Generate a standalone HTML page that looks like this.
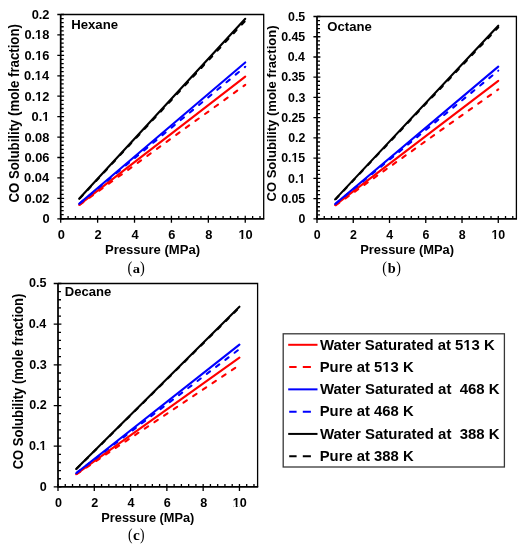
<!DOCTYPE html>
<html><head><meta charset="utf-8"><style>
html,body{margin:0;padding:0;background:#fff;}
svg{display:block;}
text{font-family:"Liberation Sans", Arial, Helvetica, sans-serif;font-weight:bold;fill:#000;}
text.cap{font-family:"Liberation Serif", "Times New Roman", serif;font-weight:normal;}
text.capb{font-family:"Liberation Serif", "Times New Roman", serif;font-weight:bold;}
</style></head><body>
<svg width="531" height="550" viewBox="0 0 531 550">
<rect width="531" height="550" fill="#fff"/>
<line x1="79.15" y1="204.93" x2="245.25" y2="76.65" stroke="#f00" stroke-width="2.1" stroke-linecap="round"/>
<line x1="79.15" y1="205.23" x2="245.25" y2="84.81" stroke="#f00" stroke-width="2.1" stroke-dasharray="4.2 7.68" stroke-dashoffset="-1.0" stroke-linecap="round"/>
<line x1="79.15" y1="203.70" x2="245.25" y2="62.47" stroke="#00f" stroke-width="2.1" stroke-linecap="round"/>
<line x1="79.15" y1="203.91" x2="245.25" y2="66.75" stroke="#00f" stroke-width="2.1" stroke-dasharray="4.2 7.68" stroke-dashoffset="-1.0" stroke-linecap="round"/>
<line x1="79.15" y1="198.80" x2="245.25" y2="18.79" stroke="#000" stroke-width="2.1" stroke-linecap="round"/>
<line x1="79.15" y1="199.11" x2="245.25" y2="20.73" stroke="#000" stroke-width="2.1" stroke-dasharray="4.2 7.68" stroke-dashoffset="-1.0" stroke-linecap="round"/>
<path d="M60.70 14.50H263.70V218.80" fill="none" stroke="#000" stroke-width="1.3"/>
<path d="M60.70 13.90V218.80H264.30" fill="none" stroke="#000" stroke-width="1.75"/>
<path d="M57.30 218.80H64.10M60.70 214.71H63.70M60.70 210.63H63.70M60.70 206.54H63.70M60.70 202.46H63.70M57.30 198.37H64.10M60.70 194.28H63.70M60.70 190.20H63.70M60.70 186.11H63.70M60.70 182.03H63.70M57.30 177.94H64.10M60.70 173.85H63.70M60.70 169.77H63.70M60.70 165.68H63.70M60.70 161.60H63.70M57.30 157.51H64.10M60.70 153.42H63.70M60.70 149.34H63.70M60.70 145.25H63.70M60.70 141.17H63.70M57.30 137.08H64.10M60.70 132.99H63.70M60.70 128.91H63.70M60.70 124.82H63.70M60.70 120.74H63.70M57.30 116.65H64.10M60.70 112.56H63.70M60.70 108.48H63.70M60.70 104.39H63.70M60.70 100.31H63.70M57.30 96.22H64.10M60.70 92.13H63.70M60.70 88.05H63.70M60.70 83.96H63.70M60.70 79.88H63.70M57.30 75.79H64.10M60.70 71.70H63.70M60.70 67.62H63.70M60.70 63.53H63.70M60.70 59.45H63.70M57.30 55.36H64.10M60.70 51.27H63.70M60.70 47.19H63.70M60.70 43.10H63.70M60.70 39.02H63.70M57.30 34.93H64.10M60.70 30.84H63.70M60.70 26.76H63.70M60.70 22.67H63.70M60.70 18.59H63.70M57.30 14.50H64.10M60.70 215.80V222.80M97.61 215.80V222.80M134.52 215.80V222.80M171.43 215.80V222.80M208.34 215.80V222.80M245.25 215.80V222.80M68.08 218.80V215.90M75.46 218.80V215.90M82.85 218.80V215.90M90.23 218.80V215.90M104.99 218.80V215.90M112.37 218.80V215.90M119.75 218.80V215.90M127.14 218.80V215.90M141.90 218.80V215.90M149.28 218.80V215.90M156.66 218.80V215.90M164.05 218.80V215.90M178.81 218.80V215.90M186.19 218.80V215.90M193.57 218.80V215.90M200.95 218.80V215.90M215.72 218.80V215.90M223.10 218.80V215.90M230.48 218.80V215.90M237.86 218.80V215.90M252.63 218.80V215.90M260.01 218.80V215.90" stroke="#000" stroke-width="1.3" fill="none"/>
<text transform="translate(42.38 223.35) scale(1.0370 1)" font-size="12.40">0</text>
<text transform="translate(24.49 202.92) scale(1.0370 1)" font-size="12.40">0.02</text>
<text transform="translate(24.04 182.49) scale(1.0370 1)" font-size="12.40">0.04</text>
<text transform="translate(24.44 162.06) scale(1.0370 1)" font-size="12.40">0.06</text>
<text transform="translate(24.38 141.63) scale(1.0370 1)" font-size="12.40">0.08</text>
<g transform="translate(31.49 121.20) scale(1.0370 1)"><text font-size="12.40">0.1</text><g fill="#fff"><rect x="10.95" y="-1.90" width="2.25" height="2.9"/><rect x="14.97" y="-1.90" width="2.03" height="2.9"/></g></g>
<g transform="translate(24.49 100.77) scale(1.0370 1)"><text font-size="12.40">0.12</text><g fill="#fff"><rect x="10.95" y="-1.90" width="2.25" height="2.9"/><rect x="14.97" y="-1.90" width="2.03" height="2.9"/></g></g>
<g transform="translate(24.04 80.34) scale(1.0370 1)"><text font-size="12.40">0.14</text><g fill="#fff"><rect x="10.95" y="-1.90" width="2.25" height="2.9"/><rect x="14.97" y="-1.90" width="2.03" height="2.9"/></g></g>
<g transform="translate(24.44 59.91) scale(1.0370 1)"><text font-size="12.40">0.16</text><g fill="#fff"><rect x="10.95" y="-1.90" width="2.25" height="2.9"/><rect x="14.97" y="-1.90" width="2.03" height="2.9"/></g></g>
<g transform="translate(24.38 39.48) scale(1.0370 1)"><text font-size="12.40">0.18</text><g fill="#fff"><rect x="10.95" y="-1.90" width="2.25" height="2.9"/><rect x="14.97" y="-1.90" width="2.03" height="2.9"/></g></g>
<text transform="translate(31.64 19.05) scale(1.0370 1)" font-size="12.40">0.2</text>
<text transform="translate(57.63 239.20) scale(1.0370 1)" font-size="12.40">0</text>
<text transform="translate(94.57 239.20) scale(1.0370 1)" font-size="12.40">2</text>
<text transform="translate(131.38 239.20) scale(1.0370 1)" font-size="12.40">4</text>
<text transform="translate(168.35 239.20) scale(1.0370 1)" font-size="12.40">6</text>
<text transform="translate(205.26 239.20) scale(1.0370 1)" font-size="12.40">8</text>
<g transform="translate(238.45 239.20) scale(1.0370 1)"><text font-size="12.40">10</text><g fill="#fff"><rect x="0.61" y="-1.90" width="2.25" height="2.9"/><rect x="4.63" y="-1.90" width="2.03" height="2.9"/></g></g>
<text transform="translate(71.17 28.80) scale(1.0297 1)" font-size="12.80">Hexane</text>
<text transform="translate(104.92 254.20) scale(0.9898 1)" font-size="13.20">Pressure (MPa)</text>
<text transform="translate(127.57 272.50) scale(0.8832 1)" font-size="16.30" class="cap">(</text>
<text transform="translate(132.73 272.50) scale(1.1038 1)" font-size="13.20" class="capb">a</text>
<text transform="translate(139.94 272.50) scale(0.8832 1)" font-size="16.30" class="cap">)</text>
<text transform="translate(18.80 202.54) rotate(-90) scale(0.9246 1)" font-size="14.30">CO Solubility (mole fraction)</text>
<line x1="335.13" y1="205.19" x2="498.27" y2="80.86" stroke="#f00" stroke-width="2.1" stroke-linecap="round"/>
<line x1="335.13" y1="205.72" x2="498.27" y2="89.37" stroke="#f00" stroke-width="2.1" stroke-dasharray="4.1 7.55" stroke-dashoffset="-1.0" stroke-linecap="round"/>
<line x1="335.13" y1="204.02" x2="498.27" y2="66.67" stroke="#00f" stroke-width="2.1" stroke-linecap="round"/>
<line x1="335.13" y1="204.10" x2="498.27" y2="70.72" stroke="#00f" stroke-width="2.1" stroke-dasharray="4.1 7.55" stroke-dashoffset="-1.0" stroke-linecap="round"/>
<line x1="335.13" y1="199.40" x2="498.27" y2="25.72" stroke="#000" stroke-width="2.1" stroke-linecap="round"/>
<line x1="335.13" y1="199.64" x2="498.27" y2="27.35" stroke="#000" stroke-width="2.1" stroke-dasharray="4.1 7.55" stroke-dashoffset="-1.0" stroke-linecap="round"/>
<path d="M317.00 16.50H516.40V218.90" fill="none" stroke="#000" stroke-width="1.3"/>
<path d="M317.00 15.90V218.90H517.00" fill="none" stroke="#000" stroke-width="1.75"/>
<path d="M313.40 218.90H320.40M317.00 214.85H320.00M317.00 210.80H320.00M317.00 206.76H320.00M317.00 202.71H320.00M313.40 198.66H320.40M317.00 194.61H320.00M317.00 190.56H320.00M317.00 186.52H320.00M317.00 182.47H320.00M313.40 178.42H320.40M317.00 174.37H320.00M317.00 170.32H320.00M317.00 166.28H320.00M317.00 162.23H320.00M313.40 158.18H320.40M317.00 154.13H320.00M317.00 150.08H320.00M317.00 146.04H320.00M317.00 141.99H320.00M313.40 137.94H320.40M317.00 133.89H320.00M317.00 129.84H320.00M317.00 125.80H320.00M317.00 121.75H320.00M313.40 117.70H320.40M317.00 113.65H320.00M317.00 109.60H320.00M317.00 105.56H320.00M317.00 101.51H320.00M313.40 97.46H320.40M317.00 93.41H320.00M317.00 89.36H320.00M317.00 85.32H320.00M317.00 81.27H320.00M313.40 77.22H320.40M317.00 73.17H320.00M317.00 69.12H320.00M317.00 65.08H320.00M317.00 61.03H320.00M313.40 56.98H320.40M317.00 52.93H320.00M317.00 48.88H320.00M317.00 44.84H320.00M317.00 40.79H320.00M313.40 36.74H320.40M317.00 32.69H320.00M317.00 28.64H320.00M317.00 24.60H320.00M317.00 20.55H320.00M313.40 16.50H320.40M317.00 215.90V222.90M353.25 215.90V222.90M389.51 215.90V222.90M425.76 215.90V222.90M462.02 215.90V222.90M498.27 215.90V222.90M324.25 218.90V216.00M331.50 218.90V216.00M338.75 218.90V216.00M346.00 218.90V216.00M360.51 218.90V216.00M367.76 218.90V216.00M375.01 218.90V216.00M382.26 218.90V216.00M396.76 218.90V216.00M404.01 218.90V216.00M411.26 218.90V216.00M418.51 218.90V216.00M433.01 218.90V216.00M440.27 218.90V216.00M447.52 218.90V216.00M454.77 218.90V216.00M469.27 218.90V216.00M476.52 218.90V216.00M483.77 218.90V216.00M491.02 218.90V216.00M505.52 218.90V216.00M512.77 218.90V216.00" stroke="#000" stroke-width="1.3" fill="none"/>
<text transform="translate(298.52 223.00) scale(1.0160 1)" font-size="12.20">0</text>
<text transform="translate(281.13 202.76) scale(1.0160 1)" font-size="12.20">0.05</text>
<g transform="translate(288.02 182.52) scale(1.0160 1)"><text font-size="12.20">0.1</text><g fill="#fff"><rect x="10.77" y="-1.90" width="2.22" height="2.9"/><rect x="14.73" y="-1.90" width="2.00" height="2.9"/></g></g>
<g transform="translate(281.13 162.28) scale(1.0160 1)"><text font-size="12.20">0.15</text><g fill="#fff"><rect x="10.77" y="-1.90" width="2.22" height="2.9"/><rect x="14.73" y="-1.90" width="2.00" height="2.9"/></g></g>
<text transform="translate(288.17 142.04) scale(1.0160 1)" font-size="12.20">0.2</text>
<text transform="translate(281.13 121.80) scale(1.0160 1)" font-size="12.20">0.25</text>
<text transform="translate(288.12 101.56) scale(1.0160 1)" font-size="12.20">0.3</text>
<text transform="translate(281.13 81.32) scale(1.0160 1)" font-size="12.20">0.35</text>
<text transform="translate(287.73 61.08) scale(1.0160 1)" font-size="12.20">0.4</text>
<text transform="translate(281.13 40.84) scale(1.0160 1)" font-size="12.20">0.45</text>
<text transform="translate(288.02 20.60) scale(1.0160 1)" font-size="12.20">0.5</text>
<text transform="translate(313.76 238.90) scale(1.0160 1)" font-size="12.20">0</text>
<text transform="translate(350.04 238.90) scale(1.0160 1)" font-size="12.20">2</text>
<text transform="translate(386.20 238.90) scale(1.0160 1)" font-size="12.20">4</text>
<text transform="translate(422.51 238.90) scale(1.0160 1)" font-size="12.20">6</text>
<text transform="translate(458.77 238.90) scale(1.0160 1)" font-size="12.20">8</text>
<g transform="translate(491.44 238.90) scale(1.0160 1)"><text font-size="12.20">10</text><g fill="#fff"><rect x="0.60" y="-1.90" width="2.22" height="2.9"/><rect x="4.56" y="-1.90" width="2.00" height="2.9"/></g></g>
<text transform="translate(327.36 30.80) scale(1.0172 1)" font-size="12.90">Octane</text>
<text transform="translate(360.24 253.70) scale(1.0318 1)" font-size="12.50">Pressure (MPa)</text>
<text transform="translate(382.28 272.50) scale(0.8594 1)" font-size="16.30" class="cap">(</text>
<text transform="translate(387.71 272.50) scale(0.9804 1)" font-size="14.60" class="capb">b</text>
<text transform="translate(396.35 272.50) scale(0.8594 1)" font-size="16.30" class="cap">)</text>
<text transform="translate(275.60 201.54) rotate(-90) scale(0.9739 1)" font-size="13.40">CO Solubility (mole fraction)</text>
<line x1="76.15" y1="474.19" x2="239.45" y2="357.61" stroke="#f00" stroke-width="2.1" stroke-linecap="round"/>
<line x1="76.15" y1="474.48" x2="239.45" y2="365.10" stroke="#f00" stroke-width="2.1" stroke-dasharray="4.1 7.55" stroke-dashoffset="-1.0" stroke-linecap="round"/>
<line x1="76.15" y1="473.21" x2="239.45" y2="344.58" stroke="#00f" stroke-width="2.1" stroke-linecap="round"/>
<line x1="76.15" y1="473.26" x2="239.45" y2="349.06" stroke="#00f" stroke-width="2.1" stroke-dasharray="4.1 7.55" stroke-dashoffset="-1.0" stroke-linecap="round"/>
<line x1="76.15" y1="469.02" x2="239.45" y2="306.71" stroke="#000" stroke-width="2.1" stroke-linecap="round"/>
<line x1="76.15" y1="469.18" x2="239.45" y2="307.52" stroke="#000" stroke-width="2.1" stroke-dasharray="4.1 7.55" stroke-dashoffset="-1.0" stroke-linecap="round"/>
<path d="M58.00 283.50H257.60V486.90" fill="none" stroke="#000" stroke-width="1.3"/>
<path d="M58.00 282.90V486.90H258.20" fill="none" stroke="#000" stroke-width="1.75"/>
<path d="M53.70 486.90H61.40M58.00 478.76H61.00M58.00 470.63H61.00M58.00 462.49H61.00M58.00 454.36H61.00M53.70 446.22H61.40M58.00 438.08H61.00M58.00 429.95H61.00M58.00 421.81H61.00M58.00 413.68H61.00M53.70 405.54H61.40M58.00 397.40H61.00M58.00 389.27H61.00M58.00 381.13H61.00M58.00 373.00H61.00M53.70 364.86H61.40M58.00 356.72H61.00M58.00 348.59H61.00M58.00 340.45H61.00M58.00 332.32H61.00M53.70 324.18H61.40M58.00 316.04H61.00M58.00 307.91H61.00M58.00 299.77H61.00M58.00 291.64H61.00M53.70 283.50H61.40M58.00 483.90V490.90M94.29 483.90V490.90M130.58 483.90V490.90M166.87 483.90V490.90M203.16 483.90V490.90M239.45 483.90V490.90M65.26 486.90V484.00M72.52 486.90V484.00M79.77 486.90V484.00M87.03 486.90V484.00M101.55 486.90V484.00M108.81 486.90V484.00M116.07 486.90V484.00M123.32 486.90V484.00M137.84 486.90V484.00M145.10 486.90V484.00M152.36 486.90V484.00M159.61 486.90V484.00M174.13 486.90V484.00M181.39 486.90V484.00M188.65 486.90V484.00M195.91 486.90V484.00M210.42 486.90V484.00M217.68 486.90V484.00M224.94 486.90V484.00M232.20 486.90V484.00M246.71 486.90V484.00M253.97 486.90V484.00" stroke="#000" stroke-width="1.3" fill="none"/>
<text transform="translate(39.71 490.80) scale(1.0500 1)" font-size="12.00">0</text>
<g transform="translate(29.04 450.12) scale(1.0500 1)"><text font-size="12.00">0.1</text><g fill="#fff"><rect x="10.59" y="-1.90" width="2.18" height="2.9"/><rect x="14.49" y="-1.90" width="1.96" height="2.9"/></g></g>
<text transform="translate(29.19 409.44) scale(1.0500 1)" font-size="12.00">0.2</text>
<text transform="translate(29.14 368.76) scale(1.0500 1)" font-size="12.00">0.3</text>
<text transform="translate(28.75 328.08) scale(1.0500 1)" font-size="12.00">0.4</text>
<text transform="translate(29.04 287.40) scale(1.0500 1)" font-size="12.00">0.5</text>
<text transform="translate(55.00 506.70) scale(1.0500 1)" font-size="12.00">0</text>
<text transform="translate(91.32 506.70) scale(1.0500 1)" font-size="12.00">2</text>
<text transform="translate(127.52 506.70) scale(1.0500 1)" font-size="12.00">4</text>
<text transform="translate(163.86 506.70) scale(1.0500 1)" font-size="12.00">6</text>
<text transform="translate(200.15 506.70) scale(1.0500 1)" font-size="12.00">8</text>
<g transform="translate(232.81 506.70) scale(1.0500 1)"><text font-size="12.00">10</text><g fill="#fff"><rect x="0.59" y="-1.90" width="2.18" height="2.9"/><rect x="4.48" y="-1.90" width="1.96" height="2.9"/></g></g>
<text transform="translate(64.72 295.70) scale(1.0463 1)" font-size="12.50">Decane</text>
<text transform="translate(101.34 521.50) scale(1.0229 1)" font-size="12.50">Pressure (MPa)</text>
<text transform="translate(128.10 539.70) scale(0.8355 1)" font-size="16.30" class="cap">(</text>
<text transform="translate(132.98 539.70) scale(1.1268 1)" font-size="13.60" class="capb">c</text>
<text transform="translate(139.96 539.70) scale(0.8355 1)" font-size="16.30" class="cap">)</text>
<text transform="translate(22.70 469.33) rotate(-90) scale(0.9367 1)" font-size="13.90">CO Solubility (mole fraction)</text>
<rect x="283.2" y="333.8" width="221.20" height="133.20" fill="none" stroke="#383838" stroke-width="1.3"/>
<path d="M288.2 344.80H317.5" stroke="#f00" stroke-width="2.0"/>
<g transform="translate(319.89 349.65) scale(0.9616 1)"><text font-size="15.50">Water Saturated at 513 K</text><g fill="#fff"><rect x="150.06" y="-1.90" width="2.82" height="2.9"/><rect x="155.09" y="-1.90" width="2.54" height="2.9"/></g></g>
<path d="M289.2 367.08H296.6M302.8 367.08H310.9" stroke="#f00" stroke-width="2.0"/>
<g transform="translate(319.71 371.93) scale(0.9566 1)"><text font-size="15.50">Pure at 513 K</text><g fill="#fff"><rect x="66.23" y="-1.90" width="2.82" height="2.9"/><rect x="71.26" y="-1.90" width="2.54" height="2.9"/></g></g>
<path d="M288.2 389.36H317.5" stroke="#00f" stroke-width="2.0"/>
<text transform="translate(319.89 394.21) scale(0.9652 1)" font-size="15.50">Water Saturated at  468 K</text>
<path d="M289.2 411.64H296.6M302.8 411.64H310.9" stroke="#00f" stroke-width="2.0"/>
<text transform="translate(319.71 416.49) scale(0.9566 1)" font-size="15.50">Pure at 468 K</text>
<path d="M288.2 433.92H317.5" stroke="#000" stroke-width="2.0"/>
<text transform="translate(319.89 438.77) scale(0.9652 1)" font-size="15.50">Water Saturated at  388 K</text>
<path d="M289.2 456.20H296.6M302.8 456.20H310.9" stroke="#000" stroke-width="2.0"/>
<text transform="translate(319.71 461.05) scale(0.9566 1)" font-size="15.50">Pure at 388 K</text>
</svg>
</body></html>
